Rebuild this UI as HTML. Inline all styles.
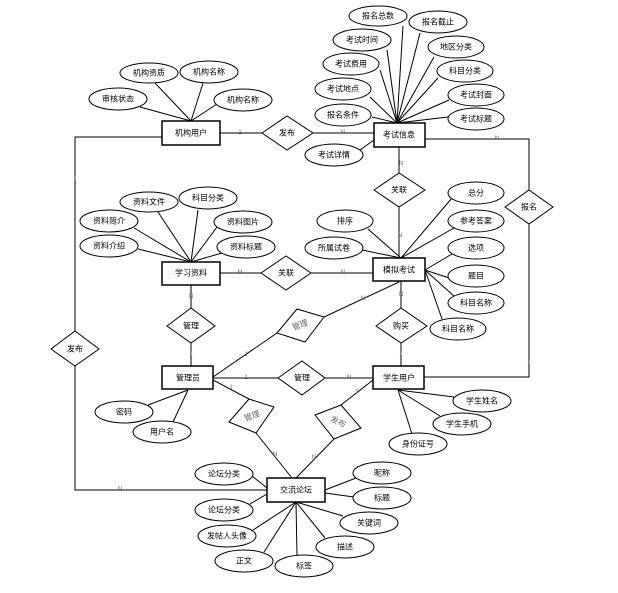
<!DOCTYPE html>
<html><head><meta charset="utf-8"><style>
body{margin:0;background:#fff}
svg text{font-family:"Liberation Sans","Noto Sans CJK SC",sans-serif;font-size:8px;fill:#000;text-anchor:middle;dominant-baseline:central}
.l{stroke:#000;stroke-width:1;fill:none}
.e{fill:#fff;stroke:#000;stroke-width:1}
.r{fill:#fff;stroke:#000;stroke-width:1.5}
.c{font-size:6px;fill:#666}
</style></head><body>
<svg width="618" height="588" viewBox="0 0 618 588" xmlns="http://www.w3.org/2000/svg">
<g class="l">
<!-- attr lines 考试信息 -->
<line x1="397" y1="123" x2="403" y2="26"/><line x1="397" y1="123" x2="420" y2="33"/>
<line x1="397" y1="123" x2="387" y2="50"/><line x1="397" y1="123" x2="434" y2="57"/>
<line x1="397" y1="123" x2="380" y2="70"/><line x1="397" y1="123" x2="438" y2="78"/>
<line x1="397" y1="123" x2="370" y2="97"/><line x1="397" y1="123" x2="449" y2="100"/>
<line x1="397" y1="123" x2="372" y2="117"/><line x1="397" y1="123" x2="448" y2="117"/>
<line x1="374" y1="140" x2="360" y2="150"/>
<!-- 机构用户 -->
<line x1="191" y1="121" x2="155" y2="83"/><line x1="191" y1="121" x2="203" y2="83"/>
<line x1="191" y1="121" x2="140" y2="107"/><line x1="191" y1="121" x2="217" y2="104"/>
<!-- 学习资料 -->
<line x1="191" y1="262" x2="158" y2="212"/><line x1="191" y1="262" x2="198" y2="210"/>
<line x1="191" y1="262" x2="134" y2="228"/><line x1="191" y1="262" x2="217" y2="227"/>
<line x1="191" y1="262" x2="138" y2="249"/><line x1="191" y1="262" x2="222" y2="253"/>
<!-- 模拟考试 -->
<line x1="401" y1="258" x2="452" y2="198"/><line x1="401" y1="258" x2="454" y2="228"/>
<line x1="401" y1="258" x2="368" y2="229"/><line x1="401" y1="258" x2="362" y2="250"/>
<line x1="425" y1="270" x2="452" y2="254"/><line x1="425" y1="270" x2="449" y2="278"/>
<line x1="425" y1="270" x2="455" y2="297"/><line x1="425" y1="270" x2="442" y2="319"/>
<!-- 管理员 -->
<line x1="188" y1="390" x2="148" y2="405"/><line x1="188" y1="390" x2="173" y2="422"/>
<!-- 学生用户 -->
<line x1="398" y1="390" x2="454" y2="397"/><line x1="398" y1="390" x2="440" y2="416"/>
<line x1="398" y1="390" x2="412" y2="434"/>
<!-- 交流论坛 -->
<line x1="267" y1="488" x2="252" y2="476"/><line x1="267" y1="494" x2="250" y2="504"/>
<line x1="296" y1="502" x2="253" y2="530"/><line x1="296" y1="502" x2="264" y2="552"/>
<line x1="296" y1="502" x2="297" y2="556"/><line x1="296" y1="502" x2="325" y2="538"/>
<line x1="296" y1="502" x2="343" y2="516"/><line x1="325" y1="493" x2="354" y2="497"/>
<line x1="325" y1="490" x2="356" y2="478"/>
<!-- relations -->
<line x1="220" y1="133" x2="262" y2="133"/><line x1="313" y1="133" x2="374" y2="133"/>
<polyline points="425,139 529,139 529,190"/><polyline points="529,224 529,377 424,377"/>
<line x1="399" y1="147" x2="399" y2="173"/><line x1="399" y1="207" x2="399" y2="258"/>
<line x1="220" y1="273" x2="261" y2="273"/><line x1="311" y1="273" x2="373" y2="273"/>
<line x1="191" y1="285" x2="191" y2="308"/><line x1="191" y1="343" x2="191" y2="366"/>
<line x1="401" y1="281" x2="401" y2="308"/><line x1="401" y1="343" x2="401" y2="366"/>
<polyline points="162,137 75,137 75,331"/><polyline points="75,366 75,490 267,490"/>
<line x1="213" y1="377" x2="277" y2="333"/><line x1="324" y1="317" x2="399" y2="282"/>
<line x1="213" y1="378" x2="278" y2="378"/><line x1="325" y1="378" x2="373" y2="378"/>
<line x1="213" y1="380" x2="249" y2="399"/><line x1="256" y1="433" x2="292" y2="478"/>
<line x1="373" y1="380" x2="341" y2="405"/><line x1="334" y1="439" x2="296" y2="478"/>
</g>
<!-- cardinalities -->
<g>
<text class="c" x="240" y="133">1</text><text class="c" x="343" y="133">N</text>
<text class="c" x="497" y="139">N</text><text class="c" x="529" y="364">1</text>
<text class="c" x="401" y="164">N</text><text class="c" x="400" y="236">N</text>
<text class="c" x="240" y="273">M</text><text class="c" x="343" y="273">N</text>
<text class="c" x="191" y="297">N</text><text class="c" x="191" y="355">1</text>
<text class="c" x="401" y="295">N</text><text class="c" x="401" y="355">1</text>
<text class="c" x="75" y="180">1</text><text class="c" x="120" y="490">N</text>
<text class="c" x="363" y="299">N</text><text class="c" x="246" y="355">1</text>
<text class="c" x="246" y="378">1</text><text class="c" x="349" y="378">N</text>
<text class="c" x="231" y="388">1</text><text class="c" x="275" y="455">N</text>
<text class="c" x="357" y="392">1</text><text class="c" x="314" y="458">N</text>
</g>
<!-- diamonds -->
<g class="e">
<polygon points="262,133 287,116 313,133 287,150"/>
<polygon points="374,190 399,173 425,190 399,207"/>
<polygon points="505,207 529,190 553,207 529,224"/>
<polygon points="261,273 286,256 311,273 286,290"/>
<polygon points="167,326 191,308 215,326 191,343"/>
<polygon points="51,349 75,331 99,349 75,366"/>
<polygon points="376,326 401,308 427,326 401,343"/>
<polygon points="278,378 302,361 325,378 302,395"/>
<polygon points="277,333 297,309 324,317 305,342"/>
<polygon points="229,422 249,399 274,407 256,433"/>
<polygon points="315,415 341,405 361,428 334,439"/>
</g>
<text x="287" y="133">发布</text><text x="399" y="190">关联</text><text x="529" y="207">报名</text>
<text x="286" y="273">关联</text><text x="191" y="326">管理</text><text x="75" y="349">发布</text>
<text x="401" y="326">购买</text><text x="302" y="378">管理</text>
<text x="300" y="325" fill="#666" style="fill:#666" transform="rotate(-20 300 325)">管理</text>
<text x="252" y="416" style="fill:#666" transform="rotate(-20 252 416)">管理</text>
<text x="338" y="422" style="fill:#666" transform="rotate(25 338 422)">发布</text>
<!-- entities -->
<g class="r">
<rect x="162" y="121" width="58" height="24"/><rect x="374" y="123" width="51" height="24"/>
<rect x="162" y="262" width="58" height="23"/><rect x="373" y="258" width="52" height="23"/>
<rect x="162" y="366" width="51" height="23"/><rect x="373" y="366" width="51" height="23"/>
<rect x="267" y="478" width="58" height="24"/>
</g>
<text x="191" y="133">机构用户</text><text x="399" y="135">考试信息</text>
<text x="191" y="273">学习资料</text><text x="399" y="270">模拟考试</text>
<text x="188" y="378">管理员</text><text x="399" y="378">学生用户</text>
<text x="296" y="490">交流论坛</text>
<!-- attributes -->
<g class="e">
<ellipse cx="378" cy="16" rx="29" ry="10"/><ellipse cx="438" cy="22" rx="29" ry="11"/>
<ellipse cx="362" cy="40" rx="29" ry="11"/><ellipse cx="456" cy="47" rx="28" ry="11"/>
<ellipse cx="351" cy="64" rx="28" ry="11"/><ellipse cx="465" cy="71" rx="28" ry="11"/>
<ellipse cx="343" cy="89" rx="28" ry="11"/><ellipse cx="476" cy="95" rx="28" ry="11"/>
<ellipse cx="343" cy="115" rx="28" ry="11"/><ellipse cx="476" cy="119" rx="28" ry="11"/>
<ellipse cx="334" cy="155" rx="29" ry="11"/>
<ellipse cx="149" cy="73" rx="29" ry="10"/><ellipse cx="209" cy="72" rx="29" ry="11"/>
<ellipse cx="118" cy="99" rx="29" ry="11"/><ellipse cx="243" cy="100" rx="29" ry="11"/>
<ellipse cx="149" cy="202" rx="29" ry="10"/><ellipse cx="208" cy="198" rx="29" ry="11"/>
<ellipse cx="109" cy="221" rx="29" ry="11"/><ellipse cx="243" cy="222" rx="29" ry="11"/>
<ellipse cx="109" cy="246" rx="29" ry="11"/><ellipse cx="246" cy="247" rx="29" ry="11"/>
<ellipse cx="476" cy="193" rx="28" ry="11"/><ellipse cx="345" cy="221" rx="28" ry="11"/>
<ellipse cx="476" cy="221" rx="28" ry="11"/><ellipse cx="334" cy="248" rx="29" ry="11"/>
<ellipse cx="476" cy="248" rx="28" ry="11"/><ellipse cx="476" cy="276" rx="28" ry="11"/>
<ellipse cx="476" cy="303" rx="28" ry="11"/><ellipse cx="458" cy="329" rx="28" ry="11"/>
<ellipse cx="124" cy="412" rx="29" ry="11"/><ellipse cx="162" cy="432" rx="29" ry="11"/>
<ellipse cx="482" cy="401" rx="29" ry="11"/><ellipse cx="462" cy="424" rx="29" ry="11"/>
<ellipse cx="418" cy="444" rx="29" ry="11"/>
<ellipse cx="224" cy="474" rx="29" ry="11"/><ellipse cx="224" cy="510" rx="29" ry="11"/>
<ellipse cx="227" cy="536" rx="29" ry="11"/><ellipse cx="244" cy="561" rx="29" ry="11"/>
<ellipse cx="304" cy="566" rx="29" ry="11"/><ellipse cx="345" cy="547" rx="29" ry="11"/>
<ellipse cx="369" cy="523" rx="29" ry="11"/><ellipse cx="382" cy="498" rx="29" ry="11"/>
<ellipse cx="382" cy="473" rx="29" ry="11"/>
</g>
<text x="378" y="16">报名总数</text><text x="438" y="22">报名截止</text>
<text x="362" y="40">考试时间</text><text x="456" y="47">地区分类</text>
<text x="351" y="64">考试费用</text><text x="465" y="71">科目分类</text>
<text x="343" y="89">考试地点</text><text x="476" y="95">考试封面</text>
<text x="343" y="115">报名条件</text><text x="476" y="119">考试标题</text>
<text x="334" y="155">考试详情</text>
<text x="149" y="73">机构资质</text><text x="209" y="72">机构名称</text>
<text x="118" y="99">审核状态</text><text x="243" y="100">机构名称</text>
<text x="149" y="202">资料文件</text><text x="208" y="198">科目分类</text>
<text x="109" y="221">资料简介</text><text x="243" y="222">资料图片</text>
<text x="109" y="246">资料介绍</text><text x="246" y="247">资料标题</text>
<text x="476" y="193">总分</text><text x="345" y="221">排序</text>
<text x="476" y="221">参考答案</text><text x="334" y="248">所属试卷</text>
<text x="476" y="248">选项</text><text x="476" y="276">题目</text>
<text x="476" y="303">科目名称</text><text x="458" y="329">科目名称</text>
<text x="124" y="412">密码</text><text x="162" y="432">用户名</text>
<text x="482" y="401">学生姓名</text><text x="462" y="424">学生手机</text>
<text x="418" y="444">身份证号</text>
<text x="224" y="474">论坛分类</text><text x="224" y="510">论坛分类</text>
<text x="227" y="536">发帖人头像</text><text x="244" y="561">正文</text>
<text x="304" y="566">标签</text><text x="345" y="547">描述</text>
<text x="369" y="523">关键词</text><text x="382" y="498">标题</text>
<text x="382" y="473">昵称</text>
</svg>
</body></html>
